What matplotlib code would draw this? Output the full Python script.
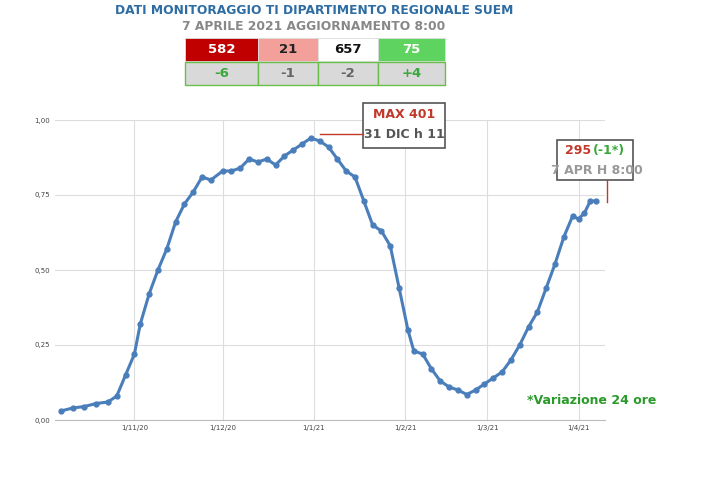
import matplotlib.pyplot as plt
from matplotlib.patches import Rectangle
from matplotlib.lines import Line2D
import pandas as pd

dates = pd.to_datetime([
    '2020-10-07', '2020-10-11', '2020-10-15', '2020-10-19', '2020-10-23', '2020-10-26',
    '2020-10-29', '2020-11-01', '2020-11-03', '2020-11-06', '2020-11-09', '2020-11-12',
    '2020-11-15', '2020-11-18', '2020-11-21', '2020-11-24', '2020-11-27', '2020-12-01',
    '2020-12-04', '2020-12-07', '2020-12-10', '2020-12-13', '2020-12-16', '2020-12-19',
    '2020-12-22', '2020-12-25', '2020-12-28', '2020-12-31', '2021-01-03', '2021-01-06',
    '2021-01-09', '2021-01-12', '2021-01-15', '2021-01-18', '2021-01-21', '2021-01-24',
    '2021-01-27', '2021-01-30', '2021-02-02', '2021-02-04', '2021-02-07', '2021-02-10',
    '2021-02-13', '2021-02-16', '2021-02-19', '2021-02-22', '2021-02-25', '2021-02-28',
    '2021-03-03', '2021-03-06', '2021-03-09', '2021-03-12', '2021-03-15', '2021-03-18',
    '2021-03-21', '2021-03-24', '2021-03-27', '2021-03-30', '2021-04-01', '2021-04-03',
    '2021-04-05', '2021-04-07'])
values = [
    0.03, 0.04, 0.045, 0.055, 0.06, 0.08,
    0.15, 0.22, 0.32, 0.42, 0.50, 0.57,
    0.66, 0.72, 0.76, 0.81, 0.80, 0.83,
    0.83, 0.84, 0.87, 0.86, 0.87, 0.85,
    0.88, 0.90, 0.92, 0.94, 0.93, 0.91,
    0.87, 0.83, 0.81, 0.73, 0.65, 0.63,
    0.58, 0.44, 0.30, 0.23, 0.22, 0.17,
    0.13, 0.11, 0.10, 0.085, 0.10, 0.12,
    0.14, 0.16, 0.20, 0.25, 0.31, 0.36,
    0.44, 0.52, 0.61, 0.68, 0.67, 0.69,
    0.73, 0.73]

top_values = ['582', '21', '657', '75']
top_colors = ['#c00000', '#f4a09a', '#ffffff', '#5fd35f']
top_text_colors = ['white', '#222222', '#111111', 'white']
delta_values = ['-6', '-1', '-2', '+4']
delta_colors = ['#3aa83a', '#666666', '#666666', '#3aa83a']

W, H = 711, 496
fig = plt.figure(figsize=(W / 100, H / 100), dpi=100)
ax = fig.add_axes([55 / W, 76 / H, 550 / W, 300 / H])

ax.plot(dates, values, color='#4a7ebb', lw=2.2, marker='o', ms=3.5)
ax.set_ylim(0, 1)
ax.set_xlim(pd.Timestamp('2020-10-05'), pd.Timestamp('2021-04-10'))
ax.set_yticks([0, 0.25, 0.5, 0.75, 1.0])
ax.set_yticklabels(['0,00', '0,25', '0,50', '0,75', '1,00'])
months = pd.to_datetime(['2020-11-01', '2020-12-01', '2021-01-01', '2021-02-01', '2021-03-01', '2021-04-01'])
ax.set_xticks(months)
ax.set_xticklabels(['1/11/20', '1/12/20', '1/1/21', '1/2/21', '1/3/21', '1/4/21'])
ax.tick_params(labelsize=5, length=0, colors='#444444')
ax.grid(color='#dddddd', lw=0.8)
for s in ['top', 'right', 'left']:
    ax.spines[s].set_visible(False)
ax.spines['bottom'].set_color('#bbbbbb')

def fx(px):
    return px / W

def fy(py):
    return 1 - py / H

# MAX box
fig.lines.append(Line2D([fx(320), fx(363)], [fy(134), fy(134)], transform=fig.transFigure, color='#c0392b', lw=1))
fig.patches.append(Rectangle((fx(363), fy(148)), 82 / W, 45 / H, transform=fig.transFigure,
                             fc='white', ec='#555555', lw=1.2))
fig.text(fx(404), fy(115), 'MAX 401', ha='center', va='center', fontsize=9, fontweight='bold', color='#c0392b')
fig.text(fx(404), fy(135), '31 DIC h 11', ha='center', va='center', fontsize=9, fontweight='bold', color='#555555')

# last value box
fig.lines.append(Line2D([fx(607), fx(607)], [fy(180), fy(202)], transform=fig.transFigure, color='#c0392b', lw=1))
fig.patches.append(Rectangle((fx(557), fy(180)), 76 / W, 40 / H, transform=fig.transFigure,
                             fc='white', ec='#555555', lw=1.2))
fig.text(fx(591), fy(150), '295', ha='right', va='center', fontsize=9, fontweight='bold', color='#c0392b')
fig.text(fx(593), fy(150), '(-1*)', ha='left', va='center', fontsize=9, fontweight='bold', color='#3aa83a')
fig.text(fx(597), fy(170), '7 APR H 8:00', ha='center', va='center', fontsize=9, fontweight='bold', color='#999999')

fig.text(fx(527), fy(401), '*Variazione 24 ore', ha='left', va='center', fontsize=9, fontweight='bold', color='#2a9a2a')

# header
fig.text(fx(314), fy(10), 'DATI MONITORAGGIO TI DIPARTIMENTO REGIONALE SUEM', ha='center', va='center',
         fontsize=8.8, fontweight='bold', color='#2e6da4')
fig.text(fx(314), fy(27), '7 APRILE 2021 AGGIORNAMENTO 8:00', ha='center', va='center',
         fontsize=8.8, fontweight='bold', color='#888888')
edges = [185, 258, 318, 378, 445]
for i in range(4):
    x0, x1 = edges[i], edges[i + 1]
    fig.patches.append(Rectangle((fx(x0), fy(61)), (x1 - x0) / W, 23 / H, transform=fig.transFigure,
                                 fc=top_colors[i], ec='#dddddd', lw=0.6))
    fig.patches.append(Rectangle((fx(x0), fy(85)), (x1 - x0) / W, 23 / H, transform=fig.transFigure,
                                 fc='#d9d9d9', ec='#6abf4b', lw=1))
    xc = fx((x0 + x1) / 2)
    fig.text(xc, fy(49.5), top_values[i], ha='center', va='center', fontsize=9.5,
             fontweight='bold', color=top_text_colors[i])
    fig.text(xc, fy(73.5), delta_values[i], ha='center', va='center', fontsize=9.5,
             fontweight='bold', color=delta_colors[i])

fig.savefig('out.png', dpi=100)
